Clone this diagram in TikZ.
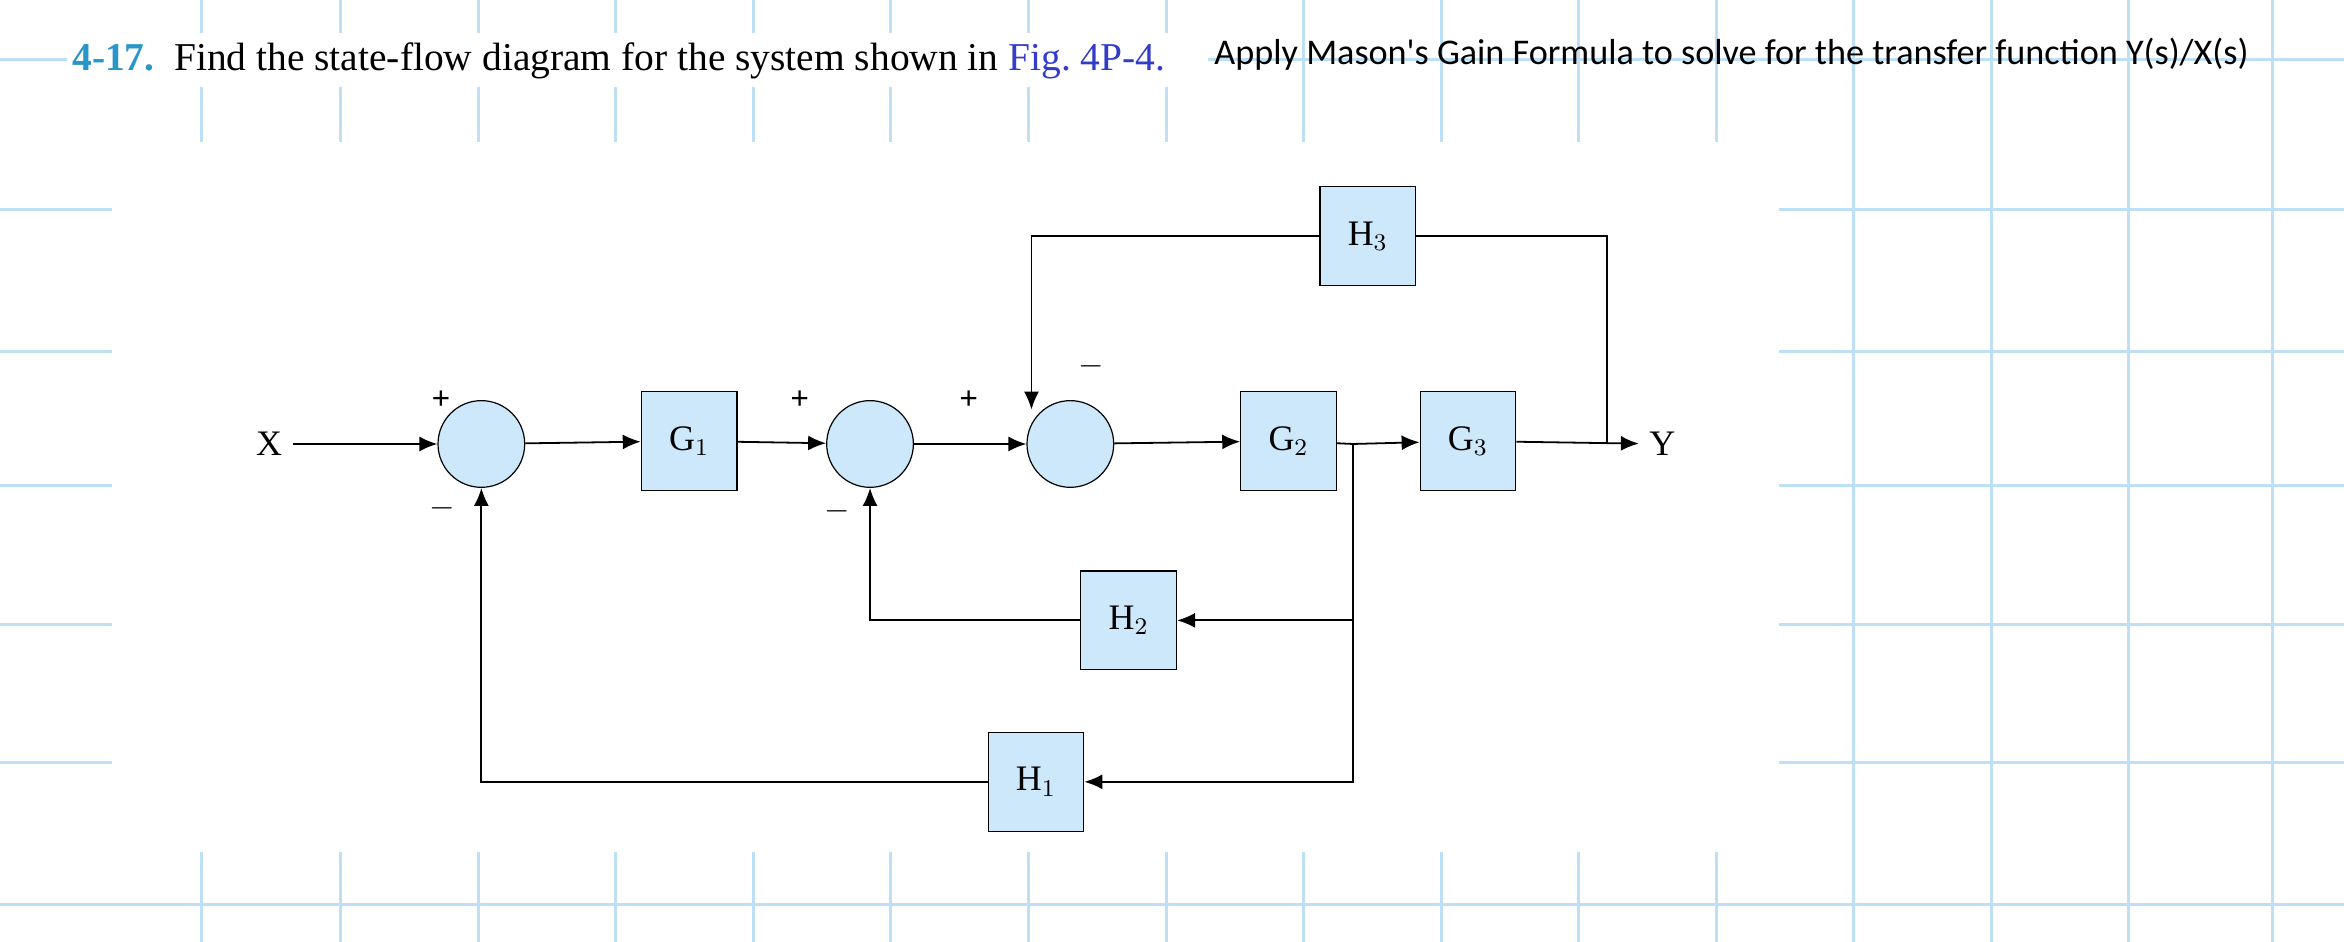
\documentclass[tikz,border=0pt]{standalone}
\usepackage{fontspec}
\setmainfont{Liberation Serif}
\newfontfamily\notefont{Carlito}
\usetikzlibrary{positioning, arrows.meta}
\definecolor{gridblue}{RGB}{190,224,246}
\definecolor{boxblue}{RGB}{204,232,250}
\definecolor{headblue}{RGB}{40,150,200}
\definecolor{figblue}{RGB}{50,60,200}
\tikzset{
    blk/.style={draw, fill=boxblue, minimum width=32pt, minimum height=33pt, inner sep=0pt, font=\fontsize{12}{14}\selectfont},
    sum/.style={draw, circle, fill=boxblue, minimum size=29pt, inner sep=0pt},
    sig/.style={font=\bfseries\fontsize{11}{13}\selectfont},
    wire/.style={line width=0.6pt},
    flow/.style={wire, -{Latex[length=6pt, width=5pt]}},
}
\begin{document}
\begin{tikzpicture}[x=0.5pt, y=-0.5pt]
    \useasboundingbox (0, 0) rectangle (1568, 630);
    % grid
    \foreach \gx in {135, 228, 320, 412, 504, 596, 688, 780, 872, 964, 1056, 1148, 1240, 1332, 1424, 1520}
        \draw[gridblue, line width=1pt] (\gx, 0) -- (\gx, 630);
    \foreach \gy in {40, 140, 235, 325, 418, 510, 605}
        \draw[gridblue, line width=1pt] (0, \gy) -- (1568, \gy);
    \fill[white] (75, 95) rectangle (1190, 570);
    \fill[white] (45, 22) rectangle (808, 58);

    % header
    \node[anchor=west, inner sep=0pt, font=\fontsize{13.2}{15}\selectfont] (q) at (48, 41)
        {\textcolor{headblue}{\textbf{4-17.}}\ \ Find the state-flow diagram for the system shown in \textcolor{figblue}{Fig.~4P-4.}};
    \node[anchor=west, inner sep=0pt, font=\notefont\fontsize{12.1}{14}\selectfont] (note) at (812, 36)
        {Apply Mason's Gain Formula to solve for the transfer function Y(s)/X(s)};

    % blocks
    \node (x) at (180, 297) {\fontsize{12}{14}\selectfont X};
    \node[sum] (s1) at (322, 297) {};
    \node[blk] (g1) at (461, 295) {G$_1$};
    \node[sum] (s2) at (582, 297) {};
    \node[sum] (s3) at (716, 297) {};
    \node[blk] (g2) at (862, 295) {G$_2$};
    \node[blk] (g3) at (982, 295) {G$_3$};
    \node (y) at (1112, 297) {\fontsize{12}{14}\selectfont Y};
    \node[blk] (h3) at (915, 158) {H$_3$};
    \node[blk] (h2) at (755, 415) {H$_2$};
    \node[blk] (h1) at (693, 523) {H$_1$};
    \coordinate (b1) at (905, 297);
    \coordinate (b2) at (1075, 297);

    % forward path
    \draw[flow] (x) -- (s1);
    \draw[flow] (s1) -- (g1);
    \draw[flow] (g1) -- (s2);
    \draw[flow] (s2) -- (s3);
    \draw[flow] (s3) -- (g2);
    \draw[wire] (g2) -- (b1);
    \draw[flow] (b1) -- (g3);
    \draw[flow] (g3) -- (y);

    % feedback
    \draw[wire] (b2) |- (h3);
    \draw[flow] (h3) -| (690, 274);
    \draw[flow] (b1) |- (h2);
    \draw[flow] (h2) -| (s2);
    \draw[flow] (b1) |- (h1);
    \draw[flow] (h1) -| (s1);

    % signs
    \node[sig] at (295, 268) {+};
    \node[sig] at (296, 340) {$-$};
    \node[sig] at (535, 268) {+};
    \node[sig] at (560, 342) {$-$};
    \node[sig] at (648, 268) {+};
    \node[sig] at (730, 245) {$-$};
\end{tikzpicture}
\end{document}
